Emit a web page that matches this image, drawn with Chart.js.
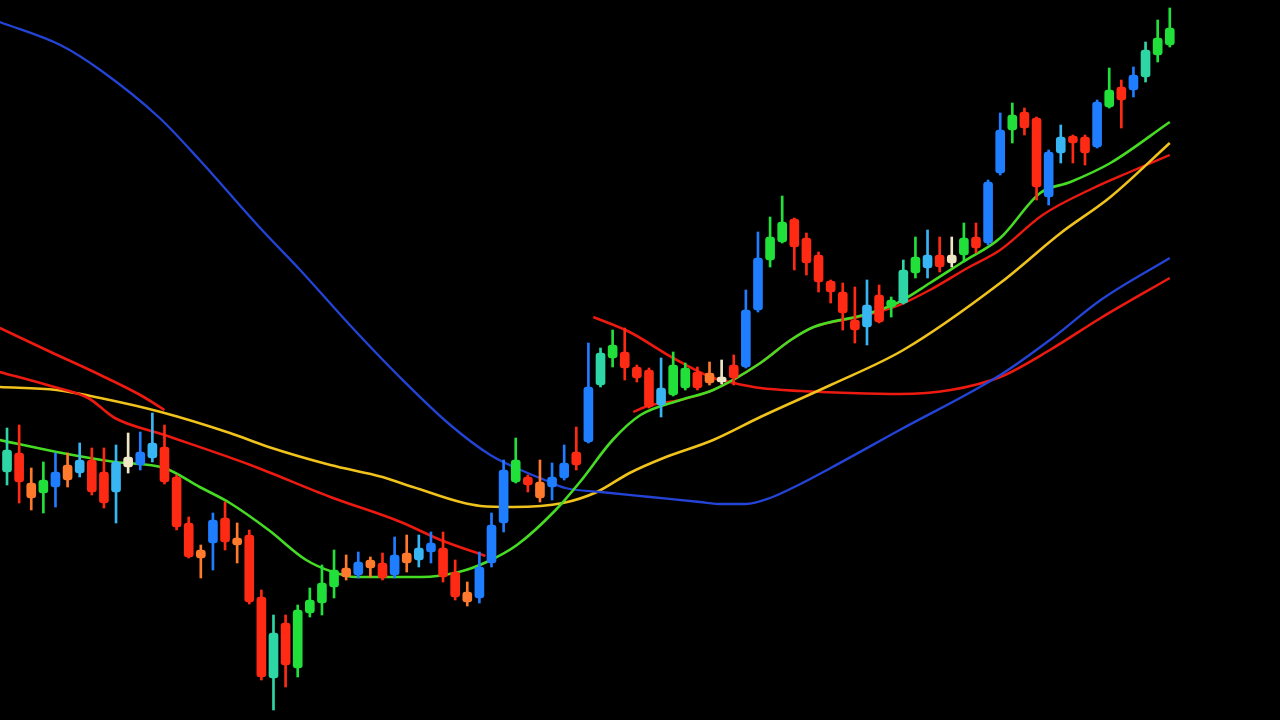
<!DOCTYPE html>
<html>
<head>
<meta charset="utf-8">
<title>Candles</title>
<script src="https://cdn.jsdelivr.net/npm/chart.js@4.4.1/dist/chart.umd.min.js"></script>
<style>
  html, body { margin: 0; padding: 0; background: #000; overflow: hidden; }
  #wrap { width: 1280px; height: 720px; position: relative; }
  #priceChart { filter: blur(0.4px); }
</style>
</head>
<body>
<div id="wrap"><canvas id="priceChart"></canvas></div>
<script>
// candle data, one entry per session
const opens = [
  124.8, 126.7, 123.7, 122.7, 123.3, 125.5, 124.7, 126.0, 124.8, 122.8,
  125.3, 125.5, 126.2, 127.3, 124.3, 119.7, 117.0, 117.7, 120.2, 118.2,
  118.5, 112.3, 104.2, 109.7, 105.2, 110.7, 111.7, 113.3, 115.2, 114.5,
  116.0, 115.7, 114.5, 116.7, 116.0, 116.8, 117.2, 114.8, 112.8, 112.2,
  115.7, 119.7, 123.8, 124.3, 123.8, 123.3, 124.2, 126.8, 127.8, 133.5,
  136.2, 136.8, 135.3, 135.0, 131.5, 132.5, 133.2, 134.8, 134.7, 133.8,
  135.5, 135.3, 141.0, 146.0, 147.8, 150.1, 148.2, 146.5, 143.9, 142.8,
  140.0, 139.3, 142.5, 141.3, 141.7, 144.7, 145.2, 146.5, 145.7, 146.5,
  148.3, 147.7, 154.7, 159.0, 160.8, 160.2, 152.3, 156.7, 158.4, 158.3,
  157.3, 161.3, 163.3, 163.0, 164.3, 166.5, 167.5
];
const closes = [
  127.0, 123.8, 122.2, 124.0, 124.8, 124.0, 126.0, 122.8, 121.7, 125.8,
  126.3, 126.8, 127.7, 123.8, 119.3, 116.3, 116.2, 120.0, 117.8, 117.5,
  111.8, 104.3, 108.7, 105.5, 111.0, 112.0, 113.7, 115.0, 114.3, 115.8,
  115.2, 114.2, 116.5, 115.7, 117.2, 117.7, 114.3, 112.3, 111.8, 115.3,
  119.5, 125.0, 126.0, 123.5, 122.2, 124.3, 125.7, 125.5, 133.3, 136.7,
  137.5, 135.2, 134.2, 131.3, 133.2, 135.5, 135.2, 133.2, 133.7, 134.3,
  134.2, 141.0, 146.2, 148.3, 149.8, 147.3, 145.7, 143.8, 142.8, 140.7,
  139.0, 141.5, 139.8, 142.0, 145.0, 146.3, 146.5, 145.3, 146.5, 148.2,
  147.2, 153.8, 159.0, 160.5, 159.2, 153.3, 156.8, 158.3, 157.7, 156.7,
  161.8, 163.0, 162.0, 164.5, 167.0, 168.2, 169.2
];
const highs = [
  129.2, 129.5, 125.2, 125.8, 126.7, 126.7, 127.7, 127.2, 127.2, 127.5,
  128.7, 128.8, 130.7, 129.5, 124.5, 120.3, 117.5, 120.7, 121.8, 119.7,
  119.0, 113.0, 110.5, 110.5, 111.5, 113.2, 115.5, 117.0, 116.5, 116.8,
  116.3, 116.7, 118.3, 118.5, 118.5, 118.8, 118.8, 116.0, 113.8, 116.8,
  120.7, 126.0, 128.2, 124.5, 126.0, 125.7, 127.5, 129.3, 137.7, 137.2,
  139.0, 139.2, 135.5, 135.2, 136.2, 136.8, 135.7, 135.3, 135.8, 136.0,
  136.5, 143.0, 148.8, 150.3, 152.4, 150.2, 148.7, 146.8, 144.0, 143.7,
  143.3, 144.0, 143.5, 142.3, 146.0, 148.3, 149.0, 148.3, 148.3, 149.7,
  149.7, 154.0, 160.7, 161.7, 161.2, 160.3, 157.0, 159.5, 158.5, 158.5,
  162.0, 165.2, 164.0, 165.3, 167.8, 170.0, 171.2
];
const lows = [
  123.5, 121.7, 121.0, 120.7, 121.3, 123.3, 124.3, 122.5, 121.2, 119.7,
  124.7, 125.0, 125.8, 123.6, 119.0, 116.2, 114.2, 115.0, 117.0, 115.7,
  111.6, 104.0, 101.0, 103.3, 104.3, 110.3, 110.5, 112.2, 114.0, 114.2,
  114.3, 114.0, 114.2, 114.8, 115.3, 115.7, 113.8, 112.0, 111.4, 111.7,
  115.3, 118.8, 123.7, 122.8, 121.8, 122.0, 124.0, 125.0, 127.7, 133.3,
  135.3, 134.0, 133.8, 131.2, 130.3, 132.4, 133.0, 133.0, 133.5, 133.6,
  133.5, 135.2, 140.8, 145.3, 147.7, 145.0, 144.5, 142.8, 141.7, 139.0,
  137.7, 137.5, 139.7, 140.3, 141.6, 144.2, 144.2, 144.8, 145.3, 145.8,
  146.7, 147.5, 154.5, 157.7, 158.5, 152.0, 151.5, 155.7, 155.7, 155.5,
  157.2, 161.2, 159.2, 162.3, 163.8, 165.8, 167.3
];
// candle colour class: r red, o orange, g green, t teal, b blue, c light blue, w pale
const kinds = [
  "t","r","o","g","b","o","c","r","r","c",
  "w","b","c","r","r","r","o","b","r","o",
  "r","r","t","r","g","g","g","g","o","b",
  "o","r","b","o","c","b","r","r","o","b",
  "b","b","g","r","o","b","b","r","b","t",
  "g","r","r","r","c","g","g","r","o","w",
  "r","b","b","g","g","r","r","r","r","r",
  "r","c","r","g","t","g","c","r","w","g",
  "r","b","b","g","r","r","b","c","r","r",
  "b","g","r","b","t","g","g"
];

// moving averages as [session, price]
const blueMA = [
  [-0.6, 169.8], [4.4, 167.5], [7.7, 165.0], [12.6, 160.2], [15.9, 156.0],
  [20.9, 149.2], [24.2, 145.0], [28.3, 139.5], [32.5, 134.2], [36.6, 129.5],
  [39.9, 126.5], [42.4, 125.0], [44.4, 124.0], [46.1, 123.2], [49.0, 122.8],
  [53.1, 122.3], [57.2, 121.8], [59.0, 121.6], [61.0, 121.6], [63.0, 122.2],
  [65.5, 123.6], [68.0, 125.2], [73.7, 129.0], [82.0, 134.5], [86.1, 138.0],
  [90.3, 142.0], [96.0, 146.2]
];
const redShortMA = [
  [-0.6, 139.2], [3.6, 136.8], [7.7, 134.5], [11.0, 132.5], [13.0, 131.0]
];
const redLeftMA = [
  [-0.6, 134.8], [3.6, 133.4], [6.7, 132.2], [8.9, 130.2], [13.0, 128.5],
  [20.1, 125.5], [26.7, 122.3], [32.5, 119.8], [35.8, 118.0], [39.5, 116.4]
];
const yellowMA = [
  [-0.6, 133.3], [4.1, 133.0], [7.7, 132.2], [12.7, 130.8], [18.4, 128.7],
  [21.6, 127.3], [26.7, 125.5], [31.0, 124.3], [33.5, 123.3], [39.1, 121.4],
  [41.8, 121.3], [45.9, 121.7], [48.7, 122.8], [51.4, 124.7], [54.2, 126.2],
  [58.3, 128.0], [62.2, 130.3], [68.0, 133.5], [74.0, 137.0], [82.0, 143.7],
  [87.0, 148.7], [91.1, 152.3], [96.0, 157.7]
];
const greenMA = [
  [-0.6, 128.0], [4.1, 126.8], [8.9, 125.8], [13.0, 125.2], [15.9, 123.3],
  [18.4, 121.7], [21.6, 119.0], [24.7, 116.0], [26.9, 114.8], [28.8, 114.3],
  [34.2, 114.3], [37.3, 114.8], [39.6, 115.8], [42.1, 117.5], [45.3, 121.0],
  [47.3, 123.8], [50.0, 128.0], [52.3, 130.5], [55.6, 132.0], [58.3, 133.0],
  [62.2, 135.7], [64.7, 138.0], [66.6, 139.3], [70.7, 140.5], [73.5, 141.7],
  [76.2, 143.7], [78.9, 145.8], [82.0, 148.2], [85.3, 152.7], [87.8, 153.8],
  [91.1, 155.7], [96.0, 159.8]
];
const redRightMA = [
  [51.7, 130.8], [52.9, 131.4], [55.6, 132.0], [58.3, 133.0], [62.2, 135.7],
  [64.7, 138.0], [66.6, 139.3], [70.7, 140.4], [73.5, 141.4], [76.2, 143.0],
  [79.3, 145.2], [82.0, 147.0], [85.5, 150.5], [89.7, 153.2], [92.7, 154.8],
  [96.0, 156.5]
];
const redSlowMA = [
  [48.4, 140.3], [51.4, 138.8], [55.0, 136.2], [58.1, 134.3], [60.0, 133.7],
  [62.2, 133.2], [65.5, 132.9], [69.6, 132.7], [73.7, 132.6], [77.9, 133.0],
  [82.0, 134.3], [86.1, 137.0], [90.3, 140.2], [96.0, 144.2]
];

const palette = {
  r: "#ff2a14", o: "#ff7a2c", g: "#22e03a", t: "#2ed6a6",
  b: "#1f7dff", c: "#38b6f4", w: "#efe6c6"
};
const candleColors = kinds.map(k => palette[k]);

function lineSet(points, color, width) {
  return {
    type: "line",
    data: points.map(p => ({ x: p[0], y: p[1] })),
    borderColor: color,
    borderWidth: width,
    pointRadius: 0,
    fill: false,
    cubicInterpolationMode: "monotone",
    order: 3
  };
}

const ctx = document.getElementById("priceChart");

new Chart(ctx, {
  type: "bar",
  data: {
    datasets: [
      lineSet(blueMA, "#2344d6", 2.3),
      lineSet(redShortMA, "#ec1a10", 2.6),
      lineSet(redLeftMA, "#ec1a10", 2.6),
      lineSet(yellowMA, "#f0c21c", 2.6),
      lineSet(redSlowMA, "#ec1a10", 2.6),
      lineSet(redRightMA, "#ec1a10", 2.4),
      Object.assign(lineSet(greenMA, "#46dc24", 2.6), { order: 2 }),
      {
        data: opens.map((o, i) => ({ x: i, y: [lows[i], highs[i]] })),
        backgroundColor: candleColors,
        barThickness: 2,
        grouped: false,
        order: 1
      },
      {
        data: opens.map((o, i) => ({ x: i, y: [o, closes[i]] })),
        backgroundColor: candleColors,
        barThickness: 9,
        borderRadius: 3,
        borderSkipped: false,
        grouped: false,
        order: 0
      }
    ]
  },
  options: {
    responsive: true,
    maintainAspectRatio: false,
    animation: false,
    layout: { padding: 0 },
    plugins: { legend: { display: false }, tooltip: { enabled: false } },
    scales: {
      x: { type: "linear", min: -0.58, max: 105.1, offset: false, display: false },
      y: { min: 100, max: 172, display: false }
    }
  }
});
</script>
</body>
</html>
